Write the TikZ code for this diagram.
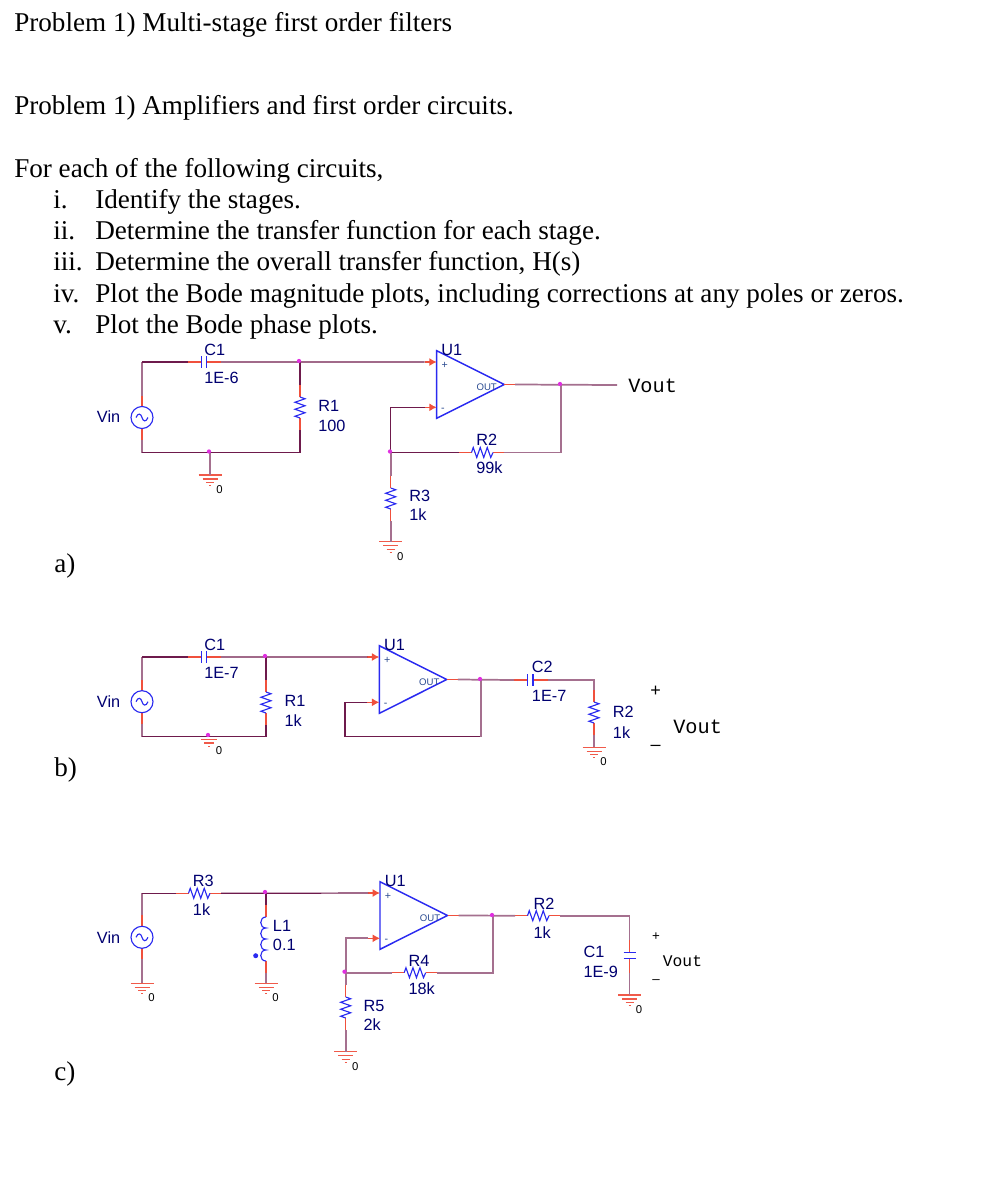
\documentclass[tikz,border=0pt]{standalone}
\usepackage{fontspec}
\setmainfont{Liberation Serif}
\setsansfont{Liberation Sans}
\setmonofont{Liberation Mono}
\usetikzlibrary{arrows.meta}
\definecolor{wirecol}{HTML}{6E1A4C}
\definecolor{softcol}{HTML}{A5708F}
\definecolor{stubcol}{HTML}{F0503C}
\definecolor{gndcol}{HTML}{F05A4A}
\definecolor{partcol}{HTML}{2A2AF0}
\definecolor{labcol}{HTML}{000070}
\definecolor{outcol}{HTML}{2A4A90}
\definecolor{dotcol}{HTML}{E030E0}
\tikzset{
	wire/.style={draw=wirecol,line width=0.9pt},
	softwire/.style={draw=softcol,line width=1.3pt},
	stub/.style={draw=stubcol,line width=1pt},
	part/.style={draw=partcol,line width=0.85pt},
	bar/.style={draw=gndcol,line width=1pt},
	jdot/.style={circle,fill=dotcol,inner sep=0pt,minimum size=3.2pt},
	lab/.style={anchor=west,inner sep=0pt,text=labcol,font=\sffamily\fontsize{12.2}{12.2}\selectfont},
	zero/.style={inner sep=0pt,font=\sffamily\fontsize{8.5}{9}\selectfont},
	body/.style={anchor=base west,inner sep=0pt,font=\fontsize{20.35}{20.35}\selectfont},
	vout/.style={anchor=west,inner sep=0pt,font=\ttfamily\fontsize{15.2}{15.2}\selectfont},
	sgn/.style={inner sep=0pt,font=\sffamily\fontsize{13.5}{13.5}\selectfont},
	opamp/.pic={
		\draw[part,line width=1.1pt] (0,0) -- (67.5,33.8) -- (0,67.6) -- cycle;
		\coordinate (-ip) at (-12,11.3);
		\coordinate (-im) at (-12,56.6);
		\coordinate (-o) at (78.5,33.8);
		\draw[stub,-{Latex[length=5.5pt,width=6pt]}] (-ip) -- (0,11.3);
		\draw[stub,-{Latex[length=5.5pt,width=6pt]}] (-im) -- (0,56.6);
		\draw[stub] (67.5,33.8) -- (-o);
		\node[lab] (-name) at (4.5,-0.7) {U1};
		\node[inner sep=0pt,text=outcol,font=\sffamily\fontsize{8}{8}\selectfont] (-plus) at (8,14.3) {+};
		\node[inner sep=0pt,text=outcol,font=\sffamily\fontsize{8}{8}\selectfont] (-minus) at (6.3,59) {-};
		\node[inner sep=0pt,text=outcol,font=\sffamily\fontsize{7.2}{7.2}\selectfont] (-out) at (50,36.3) {OUT};
	},
	resv/.pic={
		\coordinate (-a) at (0,0);
		\coordinate (-b) at (0,45);
		\draw[stub] (-a) -- (0,12) (0,33) -- (-b);
		\draw[part] (0,12) -- (5,13.75) -- (-5,17.25) -- (5,20.75) -- (-5,24.25) -- (5,27.75) -- (-5,31.25) -- (0,33);
	},
	resh/.pic={
		\coordinate (-a) at (0,0);
		\coordinate (-b) at (45,0);
		\draw[stub] (-a) -- (12.5,0) (34,0) -- (-b);
		\draw[part] (12.5,0) -- (14.25,-5) -- (17.75,5) -- (21.25,-5) -- (24.75,5) -- (28.25,-5) -- (31.75,5) -- (34,0);
	},
	caph/.pic={
		\coordinate (-a) at (0,0);
		\coordinate (-b) at (33.5,0);
		\draw[stub] (-a) -- (13.5,0) (19,0) -- (-b);
		\draw[part] (13.5,-6) -- (13.5,6) (19,-6) -- (19,6);
	},
	capv/.pic={
		\coordinate (-a) at (0,0);
		\coordinate (-b) at (0,32.7);
		\draw[stub] (-a) -- (0,12.3) (0,18.3) -- (-b);
		\draw[part] (-6,12.3) -- (6,12.3) (-6,18.3) -- (6,18.3);
	},
	coil/.pic={
		\coordinate (-a) at (0,0);
		\coordinate (-b) at (0,68);
		\draw[stub] (-a) -- (0,12) (0,56) -- (-b);
		\draw[part] (0,12) .. controls (-7,12) and (-7,23) .. (0,23) .. controls (-7,23) and (-7,34) .. (0,34)
			.. controls (-7,34) and (-7,45) .. (0,45) .. controls (-7,45) and (-7,56) .. (0,56);
		\fill[partcol] (-10.3,50.7) circle (2.5);
	},
	vsrc/.pic={
		\coordinate (-a) at (0,-22);
		\coordinate (-b) at (0,22);
		\draw[stub] (-a) -- (0,-11) (0,11) -- (-b);
		\draw[part] (0,0) circle (11);
		\draw[part] (-6,0) .. controls (-4,-5) and (-1,-4) .. (0,0) .. controls (1,4) and (4,5) .. (6,0);
	},
	gnd/.pic={
		\coordinate (-t) at (0,0);
		\draw[bar] (-11.5,0) -- (11.5,0) (-7.5,4) -- (7.5,4) (-4,7.5) -- (4,7.5) (-1,10.5) -- (1,10.5);
		\node[zero] (-z) at (9.5,14.5) {0};
	},
	gndshort/.pic={
		\coordinate (-t) at (0,0);
		\draw[bar] (-8,0) -- (8,0) (-5,3.7) -- (5,3.7) (-1,7.4) -- (1,7.4);
		\node[zero] (-z) at (10,11.4) {0};
	}
}
\begin{document}
\begin{tikzpicture}[x=0.75pt,y=-0.75pt]
	\useasboundingbox (0,0) rectangle (1004,1182);

	\node[body] (head) at (14,31) {Problem 1) Multi-stage first order filters};
	\node[body] (subhead) at (14,114) {Problem 1) Amplifiers and first order circuits.};
	\node[body] (intro) at (14,177) {For each of the following circuits,};
	\node[body] (ni) at (53,208) {i.};
	\node[body] (ti) at (95,208) {Identify the stages.};
	\node[body] (nii) at (53,239) {ii.};
	\node[body] (tii) at (95,239) {Determine the transfer function for each stage.};
	\node[body] (niii) at (53,270) {iii.};
	\node[body] (tiii) at (95,270) {Determine the overall transfer function, H(s)};
	\node[body] (niv) at (53,302) {iv.};
	\node[body] (tiv) at (95,302) {Plot the Bode magnitude plots, including corrections at any poles or zeros.};
	\node[body] (nv) at (53,333) {v.};
	\node[body] (tv) at (95,333) {Plot the Bode phase plots.};
	\node[body] (parta) at (54,572) {a)};
	\node[body] (partb) at (54,776) {b)};
	\node[body] (partc) at (54,1080) {c)};

	%circuit a
	\begin{scope}
		\pic (va) at (142,417.5) {vsrc};
		\pic (ca) at (187.7,362) {caph};
		\pic (ra) at (300,385) {resv};
		\pic (rb) at (459,452.5) {resh};
		\pic (rc) at (390.7,476) {resv};
		\pic (ua) at (436.7,350.7) {opamp};
		\pic (ga) at (210,475) {gnd};
		\pic (gb) at (390.7,541.7) {gnd};
		\coordinate (a1) at (142,362);
		\coordinate (a2) at (142,452.5);
		\coordinate (a3) at (300,362);
		\coordinate (a4) at (300,452.5);
		\coordinate (a5) at (210,452.5);
		\coordinate (a6) at (390.7,452.5);
		\coordinate (a7) at (561,385);
		\coordinate (a8) at (561,452.5);
		\coordinate (a9) at (617,385);
		\draw[softwire] (va-a) -- (a1);
		\draw[softwire] (va-b) -- (a2);
		\draw[wire] (a1) -- (ca-a);
		\draw[wire] (ca-b) -- (a3) -- (ua-ip);
		\draw[wire] (a3) -- (ra-a);
		\draw[wire] (ra-b) -- (a4) -- (a2);
		\draw[softwire] (a5) -- (ga-t);
		\draw[wire] (a6 |- ua-im) -- (ua-im);
		\draw[wire] (a6) -- (rb-a);
		\draw[wire] (a6 |- ua-im) -- (a6);
		\draw[softwire] (a6) -- (rc-a);
		\draw[softwire] (rc-b) -- (gb-t);
		\draw[softwire] (rb-b) -- (a8) -- (a7);
		\draw[softwire] (ua-o) -- (a9);
		\node[jdot] (da) at (299,361) {};
		\node[jdot] (db) at (209,451.5) {};
		\node[jdot] (dc) at (390,451.5) {};
		\node[jdot] (dd) at (560,384) {};
		\node[lab] (la) at (96.7,417) {Vin};
		\node[lab] (lb) at (204,350) {C1};
		\node[lab] (lc) at (204,378) {1E-6};
		\node[lab] (ld) at (318,406) {R1};
		\node[lab] (le) at (318,425.7) {100};
		\node[lab] (lf) at (476,440) {R2};
		\node[lab] (lg) at (476,468) {99k};
		\node[lab] (lh) at (409,496) {R3};
		\node[lab] (li) at (409,515) {1k};
		\node[vout] (lj) at (628,386) {Vout};
	\end{scope}

	%circuit b
	\begin{scope}
		\pic (vb) at (142,701.7) {vsrc};
		\pic (cb) at (187.7,657) {caph};
		\pic (rd) at (266,680) {resv};
		\pic (ub) at (379.3,645.7) {opamp};
		\pic (cc) at (514,680) {caph};
		\pic (re) at (594,690) {resv};
		\pic (gc) at (209,739.3) {gndshort};
		\pic (gd) at (594,747.3) {gnd};
		\coordinate (b1) at (142,657);
		\coordinate (b2) at (142,736.7);
		\coordinate (b3) at (266,657);
		\coordinate (b4) at (266,736.7);
		\coordinate (b5) at (345,702.3);
		\coordinate (b6) at (345,736.7);
		\coordinate (b7) at (481,736.7);
		\coordinate (b8) at (481,680);
		\coordinate (b9) at (594,680);
		\draw[softwire] (vb-a) -- (b1);
		\draw[softwire] (vb-b) -- (b2);
		\draw[wire] (b1) -- (cb-a);
		\draw[wire] (cb-b) -- (b3) -- (ub-ip);
		\draw[wire] (b3) -- (rd-a);
		\draw[wire] (rd-b) -- (b4) -- (b2);
		\draw[wire] (ub-im) -- (b5) -- (b6) -- (b7);
		\draw[softwire] (b7) -- (b8);
		\draw[softwire] (ub-o) -- (cc-a);
		\draw[softwire] (cc-b) -- (b9) -- (re-a);
		\draw[softwire] (re-b) -- (gd-t);
		\node[jdot] (de) at (265,656) {};
		\node[jdot] (df) at (208,735) {};
		\node[jdot] (dg) at (480,679) {};
		\node[lab] (lk) at (96.7,701.7) {Vin};
		\node[lab] (ll) at (204,645) {C1};
		\node[lab] (lm) at (204,673) {1E-7};
		\node[lab] (ln) at (284.3,701) {R1};
		\node[lab] (lo) at (284.3,720.7) {1k};
		\node[lab] (lp) at (531.7,667) {C2};
		\node[lab] (lq) at (531.7,696) {1E-7};
		\node[lab] (lr) at (612.7,712.3) {R2};
		\node[lab] (ls) at (612.7,732.3) {1k};
		\node[sgn] (lt) at (655.7,691.7) {+};
		\node[sgn] (lu) at (655.7,748.3) {--};
		\node[vout] (lv) at (673,726.7) {Vout};
	\end{scope}

	%circuit c
	\begin{scope}
		\pic (vc) at (142,937.3) {vsrc};
		\pic (rf) at (176,893.3) {resh};
		\pic (la) at (266,905) {coil};
		\pic (uc) at (380,881.7) {opamp};
		\pic (rg) at (391.7,972.7) {resh};
		\pic (rh) at (345.7,985) {resv};
		\pic (ri) at (515,915.7) {resh};
		\pic (cd) at (629.5,940) {capv};
		\pic (ge) at (142,983.3) {gnd};
		\pic (gf) at (266,983.3) {gnd};
		\pic (gg) at (345.7,1051.7) {gnd};
		\pic (gh) at (629.5,995) {gnd};
		\coordinate (c1) at (142,893.3);
		\coordinate (c2) at (266,893.3);
		\coordinate (c3) at (345.7,972.7);
		\coordinate (c4) at (493.3,972.7);
		\coordinate (c5) at (493.3,915.7);
		\coordinate (c6) at (629.5,915.7);
		\draw[softwire] (vc-a) -- (c1);
		\draw[wire] (c1) -- (rf-a);
		\draw[wire] (rf-b) -- (c2) -- (uc-ip);
		\draw[wire] (c2) -- (la-a);
		\draw[softwire] (vc-b) -- (ge-t);
		\draw[softwire] (la-b) -- (gf-t);
		\draw[softwire] (uc-im) -- (c3 |- uc-im) -- (c3) -- (rh-a);
		\draw[softwire] (rh-b) -- (gg-t);
		\draw[softwire] (c3) -- (rg-a);
		\draw[softwire] (rg-b) -- (c4) -- (c5);
		\draw[softwire] (uc-o) -- (ri-a);
		\draw[softwire] (ri-b) -- (c6) -- (cd-a);
		\draw[softwire] (cd-b) -- (gh-t);
		\node[jdot] (dh) at (265,892) {};
		\node[jdot] (di) at (344.5,971.7) {};
		\node[jdot] (dj) at (492,915) {};
		\node[lab] (lw) at (96.7,937.3) {Vin};
		\node[lab] (lx) at (192.7,881) {R3};
		\node[lab] (ly) at (192.7,909.3) {1k};
		\node[lab] (lz) at (272.7,926) {L1};
		\node[lab] (lza) at (272.7,945) {0.1};
		\node[lab] (lzb) at (408.3,961) {R4};
		\node[lab] (lzc) at (408.3,989) {18k};
		\node[lab] (lzd) at (363.3,1005.7) {R5};
		\node[lab] (lze) at (363.3,1025) {2k};
		\node[lab] (lzf) at (533.3,904) {R2};
		\node[lab] (lzg) at (533.3,932.7) {1k};
		\node[lab] (lzh) at (583.3,952.3) {C1};
		\node[lab] (lzi) at (583.3,971.7) {1E-9};
		\node[sgn,font=\sffamily\fontsize{10}{10}\selectfont] (lzj) at (656,936.7) {+};
		\node[sgn,font=\sffamily\fontsize{10}{10}\selectfont] (lzk) at (656,981.7) {--};
		\node[vout,font=\ttfamily\fontsize{12.2}{12.2}\selectfont] (lzl) at (662.7,960.7) {Vout};
	\end{scope}
\end{tikzpicture}
\end{document}
